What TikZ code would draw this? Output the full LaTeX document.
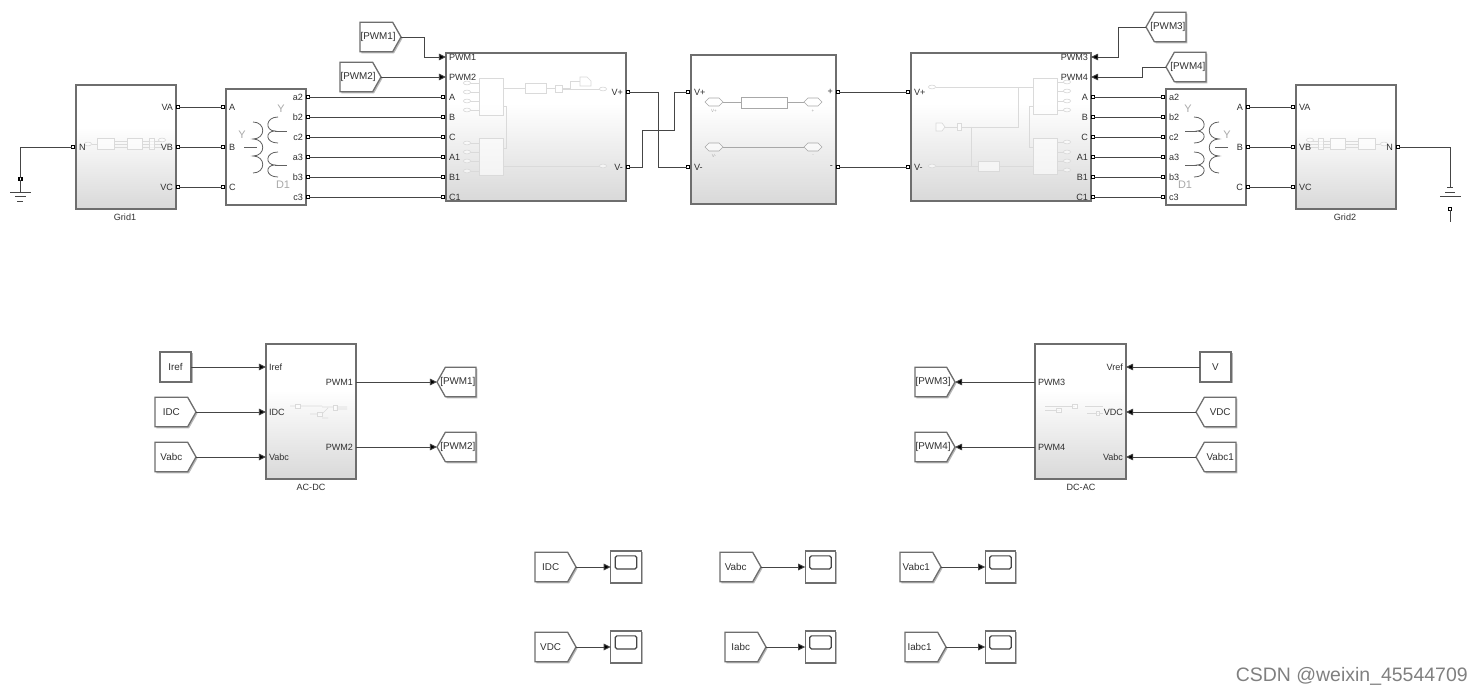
\documentclass[tikz,border=0pt]{standalone}
\usepackage{fontspec}
\setmainfont{Liberation Sans}
\usetikzlibrary{arrows.meta,shapes.symbols,shadows,fit,calc}
\definecolor{wirec}{HTML}{454545}
\definecolor{edgec}{HTML}{6E6E6E}
\definecolor{textc}{HTML}{303030}
\definecolor{faintc}{HTML}{DADADA}
\definecolor{midc}{HTML}{A8A8A8}
\pgfdeclareverticalshading{simblock}{100bp}{color(0bp)=(black!15);color(25bp)=(black!15);color(58bp)=(white);color(100bp)=(white)}
\newcounter{lblc}
\tikzset{
 softshadow/.style={drop shadow={shadow xshift=1.1pt,shadow yshift=-1.1pt,opacity=.28,fill=black}},
 blockbox/.style={draw=edgec,line width=.95pt,shading=simblock,inner sep=0pt,outer sep=0pt,softshadow},
 plainbox/.style={draw=edgec,line width=.95pt,fill=white,inner sep=0pt,outer sep=0pt,softshadow,font=\fontsize{7.4}{9}\selectfont,text=textc},
 tagto/.style={signal,signal from=nowhere,signal pointer angle=121,draw=edgec,line width=.95pt,fill=white,inner sep=0pt,outer sep=0pt,minimum height=22.2pt,softshadow,font=\fontsize{7.4}{9}\selectfont,text=textc},
 portbox/.style={draw=black,fill=white,line width=1.15pt,minimum size=2.2pt,inner sep=0pt,outer sep=0pt},
 wire/.style={draw=wirec,line width=.68pt},
 sigwire/.style={draw=wirec,line width=.68pt,-{Triangle[length=5.4pt,width=5pt,fill=black]}},
 lbl/.style={font=\fontsize{6.8}{8}\selectfont,text=textc,inner sep=0pt,outer sep=0pt},
 captxt/.style={font=\fontsize{6.8}{8}\selectfont,text=textc,inner sep=0pt},
 graytxt/.style={font=\fontsize{8.2}{9}\selectfont,text=midc,inner sep=0pt},
 tinytxt/.style={font=\fontsize{3.4}{4}\selectfont,text=midc,inner sep=0pt},
 faint/.style={draw=faintc,line width=.5pt},
 faintfill/.style={draw=faintc,line width=.5pt,fill=white,fill opacity=.6},
 coil/.style={draw=black!62,line width=.6pt},
 midline/.style={draw=midc,line width=.6pt},
 scopebox/.style={plainbox,minimum width=22.8pt,minimum height=24pt},
 screenbox/.style={draw=wirec,line width=.9pt,rounded corners=1.2pt,fill=white,minimum width=16pt,minimum height=9.8pt,inner sep=0pt},
}
\newcommand{\blk}[5]{\coordinate (#1-nw) at (#2,#3);\coordinate (#1-se) at (#4,#5);\node[blockbox,fit=(#1-nw)(#1-se)] (#1) {};}
\newcommand{\port}[3]{\node[portbox] (#1) at (#2,#3) {};}
\newcommand{\lb}[4]{\stepcounter{lblc}\node[lbl,anchor=#1] (txt\thelblc) at (#2,#3) {#4};}
\newcommand{\ovl}[2]{\draw[faintfill] (#1,#2) ellipse (3.6 and 1.9);}
\newcommand{\scp}[3]{\node[scopebox] (#1) at (#2,#3) {};\node[screenbox] (#1s) at ($(#1.center)+(0,-4.6)$) {};}
% east-pointing tag: #5 = space after the text; west-pointing tag: #5 = space before it
\newcommand{\tagE}[6]{\node[tagto,signal to=east,anchor=east,minimum width=#4*.75pt] (#1) at (#2,#3) {#6\hspace*{#5pt}};}
\newcommand{\tagW}[6]{\node[tagto,signal to=west,anchor=west,minimum width=#4*.75pt] (#1) at (#2,#3) {\hspace*{#5pt}#6};}
\newcommand{\gridsketch}{%
 \ovl{88}{144}
 \foreach \yy in {141,144,147}{\draw[faint] (114,\yy)--(127,\yy) (142,\yy)--(162,\yy);}
 \draw[faint] (92,144)--(97,144);
 \draw[faintfill] (97,138) rectangle (114,149);
 \draw[faintfill] (127,138) rectangle (142,149);
 \draw[faintfill] (149,138) rectangle (154,149);
 \ovl{162}{140}
}
\newcommand{\coilset}{%
 \draw[coil] (253,122) .. controls (266,122) and (266,139) .. (253,139) .. controls (266,139) and (266,156) .. (253,156) .. controls (266,156) and (266,173) .. (253,173);
 \draw[coil] (244,147) -- (257,147);
 \draw[coil] (278,117) .. controls (265,117) and (265,131) .. (275,131) .. controls (265,131) and (265,143) .. (278,143);
 \draw[coil] (275,131) -- (287,131);
 \draw[coil] (278,152) .. controls (265,152) and (265,165) .. (275,165) .. controls (265,165) and (265,177) .. (278,177);
 \draw[coil] (275,165) -- (287,165);
}
\begin{document}
\begin{tikzpicture}[x=.75pt,y=-.75pt]
\useasboundingbox (0,0) rectangle (1479,695);
\fill[white] (0,0) rectangle (1479,695);

% ---- power blocks
\blk{gridA}{76}{85}{176}{209}
\blk{trA}{226}{89}{306}{205}
\blk{rect}{446}{53}{626}{201}
\blk{link}{691}{55}{836}{204}
\blk{inv}{911}{53}{1091}{201}
\blk{trB}{1166}{89}{1246}{205}
\blk{gridB}{1296}{85}{1396}{209}
\fill[white] (227,90) rectangle (305,204);
\fill[white] (1167,90) rectangle (1245,204);

% ---- sketches inside the blocks
\gridsketch
\begin{scope}[shift={(1472,0)},xscale=-1]\gridsketch\coilset\end{scope}
\coilset
\node[graytxt] (yA1) at (281,109) {Y};
\node[graytxt] (yA2) at (242,135) {Y};
\node[graytxt] (dA) at (283,185) {D1};
\node[graytxt] (yB1) at (1188,109) {Y};
\node[graytxt] (yB2) at (1227,135) {Y};
\node[graytxt] (dB) at (1185,185) {D1};

% rectifier sketch
\foreach \yy in {83,92,101,110,143,152,161,171}{\draw[faint] (470,\yy)--(479,\yy);\ovl{467}{\yy}}
\draw[faintfill] (479,78) rectangle (503,115);
\draw[faintfill] (479,138) rectangle (503,175);
\draw[faint] (503,106)--(506,106)--(506,148)--(503,148);
\draw[faint] (503,88)--(525,88) (546,88)--(555,88) (562,89)--(600,89);
\draw[faint] (562,88)--(570,88)--(570,81)--(580,81);
\draw[faint] (503,166)--(600,166);
\draw[faintfill] (525,83) rectangle (546,93);
\draw[faintfill] (555,85) rectangle (562,92);
\draw[faintfill] (580,77)--(587,77)--(591,81)--(591,86)--(580,86)--cycle;
\ovl{603}{89}\ovl{603}{166}

% link sketch
\foreach \yy/\a/\b in {102/V+/+,147/V-/-}{
 \draw[faintfill,draw=midc] (705,\yy)--(709,\yy-4)--(719,\yy-4)--(723,\yy)--(719,\yy+4)--(709,\yy+4)--cycle;
 \draw[faintfill,draw=midc] (804,\yy)--(808,\yy-4)--(818,\yy-4)--(822,\yy)--(818,\yy+4)--(808,\yy+4)--cycle;
 \node[tinytxt] at (714,\yy+9) {\a};
 \node[tinytxt] at (813,\yy+9) {\b};
}
\draw[midline] (723,102)--(741,102) (787,102)--(804,102) (723,147)--(804,147);
\draw[midline,fill=white] (741,97) rectangle (787,108);

% inverter sketch
\foreach \yy in {82,91,101,110,142,152,161,170}{\draw[faint] (1057,\yy)--(1064,\yy);\ovl{1067}{\yy}}
\draw[faint] (936,87)--(1033,87) (936,166)--(978,166) (999,166)--(1033,166);
\draw[faint] (961,127)--(1018,127)--(1018,87) (971,127)--(971,166) (945,127)--(957,127);
\draw[faint] (1033,106)--(1029,106)--(1029,147)--(1033,147);
\draw[faintfill] (1033,78) rectangle (1057,114);
\draw[faintfill] (1033,138) rectangle (1057,174);
\draw[faintfill] (978,161) rectangle (999,171);
\draw[faintfill] (936,123)--(942,123)--(945,127)--(942,131)--(936,131)--cycle;
\draw[faintfill] (957,123) rectangle (961,130);
\ovl{932}{87}\ovl{932}{166}

% ---- labels of the power blocks
\lb{west}{79}{147}{N}\lb{east}{173}{107}{VA}\lb{east}{173}{147}{VB}\lb{east}{173}{187}{VC}
\lb{west}{229}{107}{A}\lb{west}{229}{147}{B}\lb{west}{229}{187}{C}
\foreach \t/\yy in {a2/97,b2/117,c2/137,a3/157,b3/177,c3/197}{\lb{east}{303}{\yy}{\t}}
\foreach \t/\yy in {PWM1/57,PWM2/77,A/97,B/117,C/137,A1/157,B1/177,C1/197}{\lb{west}{449}{\yy}{\t}}
\lb{east}{623}{92}{V+}\lb{east}{623}{167}{V-}
\lb{west}{694}{92}{V+}\lb{west}{694}{167}{V-}
\lb{east}{833}{92}{+}\lb{east}{833}{167}{-}
\lb{west}{914}{92}{V+}\lb{west}{914}{167}{V-}
\foreach \t/\yy in {PWM3/57,PWM4/77,A/97,B/117,C/137,A1/157,B1/177,C1/197}{\lb{east}{1088}{\yy}{\t}}
\foreach \t/\yy in {a2/97,b2/117,c2/137,a3/157,b3/177,c3/197}{\lb{west}{1169}{\yy}{\t}}
\lb{east}{1243}{107}{A}\lb{east}{1243}{147}{B}\lb{east}{1243}{187}{C}
\lb{west}{1299}{107}{VA}\lb{west}{1299}{147}{VB}\lb{west}{1299}{187}{VC}
\lb{east}{1393}{147}{N}
\node[captxt] (capA) at (125,217) {Grid1};
\node[captxt] (capB) at (1345,217) {Grid2};

% ---- ports
\port{gaN}{73}{147}\port{gaA}{178}{107}\port{gaB}{178}{147}\port{gaC}{178}{187}
\port{taA}{223}{107}\port{taB}{223}{147}\port{taC}{223}{187}
\foreach \n/\yy in {1/97,2/117,3/137,4/157,5/177,6/197}{
 \port{tao\n}{308}{\yy}\port{ri\n}{443}{\yy}\port{io\n}{1093}{\yy}\port{tbi\n}{1163}{\yy}}
\port{rP}{628}{92}\port{rM}{628}{167}
\port{lP}{688}{92}\port{lM}{688}{167}
\port{loP}{838}{92}\port{loM}{838}{167}
\port{iP}{908}{92}\port{iM}{908}{167}
\port{tbA}{1248}{107}\port{tbB}{1248}{147}\port{tbC}{1248}{187}
\port{gbA}{1293}{107}\port{gbB}{1293}{147}\port{gbC}{1293}{187}
\port{gbN}{1398}{147}
\port{gndA}{20.5}{179}
\port{batB}{1450}{209}

% ---- power wiring
\draw[wire] (gaN) -| (gndA);
\draw[wire] (gndA) -- (20.5,192);
\draw[wire] (10,192)--(31,192) (15,196.5)--(26,196.5) (17,201)--(23,201);
\draw[wire] (gaA)--(taA) (gaB)--(taB) (gaC)--(taC);
\foreach \n in {1,...,6}{\draw[wire] (tao\n)--(ri\n) (io\n)--(tbi\n);}
\draw[wire] (rP) -- ++(30,0) |- (lM);
\draw[wire] (rM) -- ++(14,0) |- (674,130) |- (lP);
\draw[wire] (loP)--(iP) (loM)--(iM);
\draw[wire] (tbA)--(gbA) (tbB)--(gbB) (tbC)--(gbC);
\draw[wire] (gbN) -| (1450,187);
\draw[wire] (1447,187)--(1453,187) (1445,192)--(1455,192) (1440,196)--(1461,196);
\draw[wire] (batB) -- (1450,222);

% ---- PWM tags on top
\tagE{pg1}{401}{37}{41}{-2.65}{[PWM1]}
\tagE{pg2}{381}{77}{41}{-2.65}{[PWM2]}
\tagW{pg3}{1146}{27}{40}{-3.4}{[PWM3]}
\tagW{pg4}{1166}{67}{40}{-3.4}{[PWM4]}
\coordinate (rin1) at (446,57);\coordinate (rin2) at (446,77);
\coordinate (iin1) at (1091,57);\coordinate (iin2) at (1091,77);
\draw[sigwire] (pg1.east) -- ++(23,0) |- (rin1);
\draw[sigwire] (pg2.east) -- (rin2);
\draw[sigwire] (pg3.west) -- ++(-28,0) |- (iin1);
\draw[sigwire] (pg4.west) -- ++(-24,0) |- (iin2);

% ---- AC-DC controller
\blk{acdc}{266}{344}{356}{479}
\node[captxt] (capC) at (311,487) {AC-DC};
\draw[faint] (290,406)--(295,406) (300,406)--(322,406) (322,407)--(333,407) (310,414)--(322,414)--(328,408) (322,418)--(328,418) (336,407)--(347,407) (336,409)--(347,409);
\draw[faintfill] (295,404) rectangle (300,408);
\draw[faintfill] (317,412) rectangle (322,416);
\draw[faintfill] (333,405) rectangle (337,410);
\lb{west}{269}{367}{Iref}\lb{west}{269}{412}{IDC}\lb{west}{269}{457}{Vabc}
\lb{east}{353}{382}{PWM1}\lb{east}{353}{447}{PWM2}
\node[plainbox,minimum width=23.3pt,minimum height=22.5pt] (iref) at (175.5,367) {Iref};
\tagE{fidc}{196}{412}{41}{0}{IDC}
\tagE{fvabc}{196}{457}{41}{0}{Vabc}
\tagW{tp1}{437}{382}{39}{-4.2}{[PWM1]}
\tagW{tp2}{437}{447}{39}{-4.2}{[PWM2]}
\coordinate (acin1) at (266,367);\coordinate (acin2) at (266,412);\coordinate (acin3) at (266,457);
\draw[sigwire] (iref)--(acin1);
\draw[sigwire] (fidc.east)--(acin2);
\draw[sigwire] (fvabc.east)--(acin3);
\draw[sigwire] (acdc.east |- tp1.west)--(tp1.west);
\draw[sigwire] (acdc.east |- tp2.west)--(tp2.west);

% ---- DC-AC controller
\blk{dcac}{1035}{344}{1126}{479}
\node[captxt] (capD) at (1081,487) {DC-AC};
\draw[faint] (1045,406)--(1075,406) (1045,410)--(1060,410) (1085,406)--(1103,406) (1087,413)--(1103,413);
\draw[faintfill] (1072,404) rectangle (1077,408);
\draw[faintfill] (1056,408) rectangle (1061,412);
\draw[faintfill] (1096,411) rectangle (1099,415);
\lb{east}{1123}{367}{Vref}\lb{east}{1123}{412}{VDC}\lb{east}{1123}{457}{Vabc}
\lb{west}{1038}{382}{PWM3}\lb{west}{1038}{447}{PWM4}
\node[plainbox,minimum width=23.3pt,minimum height=22.5pt] (vref) at (1215.5,367) {V};
\tagW{fvdc}{1196}{412}{40}{0}{VDC}
\tagW{fvabb}{1196}{457}{40}{0}{Vabc1}
\tagE{tp3}{955}{382}{40}{-3.4}{[PWM3]}
\tagE{tp4}{955}{447}{40}{-3.4}{[PWM4]}
\coordinate (dcin1) at (1126,367);\coordinate (dcin2) at (1126,412);\coordinate (dcin3) at (1126,457);
\draw[sigwire] (vref)--(dcin1);
\draw[sigwire] (fvdc.west)--(dcin2);
\draw[sigwire] (fvabb.west)--(dcin3);
\draw[sigwire] (dcac.west |- tp3.east)--(tp3.east);
\draw[sigwire] (dcac.west |- tp4.east)--(tp4.east);

% ---- scopes
\tagE{s1}{576}{567}{41}{1}{IDC}
\tagE{s2}{761}{567}{41}{1}{Vabc}
\tagE{s3}{941}{567}{41}{0}{Vabc1}
\tagE{s4}{576}{647}{41}{1}{VDC}
\tagE{s5}{766}{647}{41}{1}{Iabc}
\tagE{s6}{946}{647}{41}{2.6}{Iabc1}
\scp{c1}{626}{567}\scp{c2}{820.5}{567}\scp{c3}{1000.5}{567}
\scp{c4}{626}{647}\scp{c5}{820.5}{647}\scp{c6}{1000.5}{647}
\foreach \n in {1,...,6}{\draw[sigwire] (s\n.east)--(c\n.west);}

\node[font=\fontsize{14.6}{16}\selectfont,text=black!50,inner sep=0pt,anchor=east] (mark) at (1468,676) {CSDN @weixin\_45544709};
\end{tikzpicture}
\end{document}
